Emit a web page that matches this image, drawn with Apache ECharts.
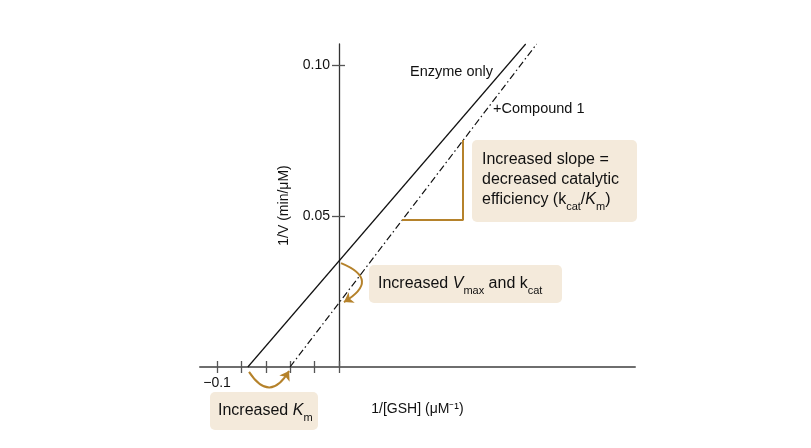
<!DOCTYPE html>
<html>
<head>
<meta charset="utf-8">
<script src="https://cdn.jsdelivr.net/npm/echarts@6/dist/echarts.min.js"></script>
<style>
  html, body { margin: 0; padding: 0; background: #fff; }
  #chart { width: 811px; height: 448px; }
</style>
</head>
<body>
<div id="chart"></div>
<script>
  // axis ranges (1/[GSH] in µM^-1, 1/V in min/µM)
  const xRange = [-0.114, 0.2426];
  const yRange = [0, 0.107];
  const xTicks = [-0.1, -0.08, -0.06, -0.04, -0.02, 0];
  const xLabels = [-0.1];
  const yTicks = [0.05, 0.10];

  // Lineweaver-Burk lines
  const enzymeOnly = [[-0.0748, 0], [0.153, 0.107]];
  const compound1 = [[-0.0402, 0], [0.162, 0.107]];

  // slope triangle under the compound line
  const slopeTriangle = [[0.0516, 0.0487], [0.1016, 0.0487], [0.1016, 0.0752]];

  // curved arrows
  const vmaxArrow = [[0.0016, 0.0344], [0.004, 0.0215]];
  const kmArrow = [[-0.0738, -0.0016], [-0.041, -0.0013]];

  const brown = '#b5822b';
  const boxFill = '#f4eadb';
  const font = '"Liberation Sans", Arial, sans-serif';

  // y axis sits on x = 0: shift from the grid's left edge, and from its right edge
  const yAxisShiftLeft = -139;
  const yAxisShiftRight = -296;

  const subRich = {
    n: { fontSize: 16, fontFamily: font, fill: '#111', lineHeight: 20, verticalAlign: 'top' },
    i: { fontSize: 16, fontFamily: font, fill: '#111', lineHeight: 20, fontStyle: 'italic', verticalAlign: 'top' },
    s: { fontSize: 11, fontFamily: font, fill: '#111', lineHeight: 11, padding: [9, 0, 0, 0], verticalAlign: 'top' }
  };

  const chart = echarts.init(document.getElementById('chart'));

  const option = {
    animation: false,
    grid: { left: 200, right: 176, top: 44, bottom: 81 },
    xAxis: [
      {
        type: 'value',
        min: xRange[0],
        max: xRange[1],
        position: 'bottom',
        name: '1/[GSH] (μM⁻¹)',
        nameLocation: 'middle',
        nameGap: 35,
        nameTextStyle: { fontSize: 14, fontFamily: font, color: '#111' },
        axisLine: { show: true, onZero: false, lineStyle: { color: '#6e6e6e', width: 2 } },
        axisTick: { show: true, length: 6, customValues: xTicks, lineStyle: { color: '#555', width: 1.3 } },
        axisLabel: {
          customValues: xLabels, margin: 9, fontSize: 14, fontFamily: font, color: '#111',
          formatter: v => '−' + Math.abs(v).toFixed(1)
        },
        splitLine: { show: false }
      },
      {
        // upper half of the crossing ticks
        type: 'value',
        min: xRange[0],
        max: xRange[1],
        position: 'bottom',
        axisLine: { show: false, onZero: false },
        axisTick: { show: true, inside: true, length: 6, customValues: xTicks, lineStyle: { color: '#555', width: 1.3 } },
        axisLabel: { show: false },
        splitLine: { show: false }
      }
    ],
    yAxis: [
      {
        type: 'value',
        min: yRange[0],
        max: yRange[1],
        position: 'left',
        offset: yAxisShiftLeft,
        name: '1/V (min/μM)',
        nameLocation: 'middle',
        nameGap: 48,
        nameRotate: 90,
        nameTextStyle: { fontSize: 14, fontFamily: font, color: '#111' },
        axisLine: { show: true, onZero: false, lineStyle: { color: '#333', width: 1.3 } },
        axisTick: { show: true, length: 7, customValues: yTicks, lineStyle: { color: '#555', width: 1.3 } },
        axisLabel: {
          customValues: yTicks, margin: 9, fontSize: 14, fontFamily: font, color: '#111',
          formatter: v => v.toFixed(2)
        },
        splitLine: { show: false }
      },
      {
        // right half of the crossing ticks
        type: 'value',
        min: yRange[0],
        max: yRange[1],
        position: 'right',
        offset: yAxisShiftRight,
        axisLine: { show: false, onZero: false },
        axisTick: { show: true, inside: false, length: 6, customValues: yTicks, lineStyle: { color: '#555', width: 1.3 } },
        axisLabel: { show: false },
        splitLine: { show: false }
      }
    ],
    series: [
      {
        name: 'Enzyme only',
        type: 'line',
        data: enzymeOnly,
        showSymbol: false,
        clip: false,
        lineStyle: { color: '#111', width: 1.2 }
      },
      {
        name: '+Compound 1',
        type: 'line',
        data: compound1,
        showSymbol: false,
        clip: false,
        lineStyle: { color: '#111', width: 1.2, type: [7, 3, 1.5, 3] }
      },
      {
        type: 'line',
        data: slopeTriangle,
        showSymbol: false,
        lineStyle: { color: brown, width: 2 }
      },
      {
        type: 'lines',
        coordinateSystem: 'cartesian2d',
        clip: false,
        symbol: ['none', 'arrow'],
        symbolSize: 9,
        lineStyle: { color: brown, width: 2, curveness: 1.0, opacity: 1 },
        data: [{ coords: vmaxArrow }]
      },
      {
        type: 'lines',
        coordinateSystem: 'cartesian2d',
        clip: false,
        symbol: ['none', 'arrow'],
        symbolSize: 9,
        lineStyle: { color: brown, width: 2, curveness: -0.8, opacity: 1 },
        data: [{ coords: kmArrow }]
      }
    ],
    graphic: [
      { type: 'text', left: 410, top: 64, style: { text: 'Enzyme only', fontSize: 14.5, fontFamily: font, fill: '#111' } },
      { type: 'text', left: 493, top: 101, style: { text: '+Compound 1', fontSize: 14.5, fontFamily: font, fill: '#111' } },

      { type: 'rect', shape: { x: 472, y: 140, width: 165, height: 82, r: 5 }, style: { fill: boxFill } },
      {
        type: 'text', x: 482, y: 152,
        style: {
          text: '{n|Increased slope =}\n{n|decreased catalytic}\n{n|efficiency (k}{s|cat}{n|/}{i|K}{s|m}{n|)}',
          rich: subRich, fill: '#111'
        }
      },

      { type: 'rect', shape: { x: 369, y: 265, width: 193, height: 38, r: 5 }, style: { fill: boxFill } },
      {
        type: 'text', x: 378, y: 276,
        style: {
          text: '{n|Increased }{i|V}{s|max}{n| and k}{s|cat}',
          rich: subRich, fill: '#111'
        }
      },

      { type: 'rect', shape: { x: 210, y: 392, width: 108, height: 38, r: 5 }, style: { fill: boxFill } },
      {
        type: 'text', x: 218, y: 403,
        style: {
          text: '{n|Increased }{i|K}{s|m}',
          rich: subRich, fill: '#111'
        }
      }
    ]
  };

  chart.setOption(option);
</script>
</body>
</html>
